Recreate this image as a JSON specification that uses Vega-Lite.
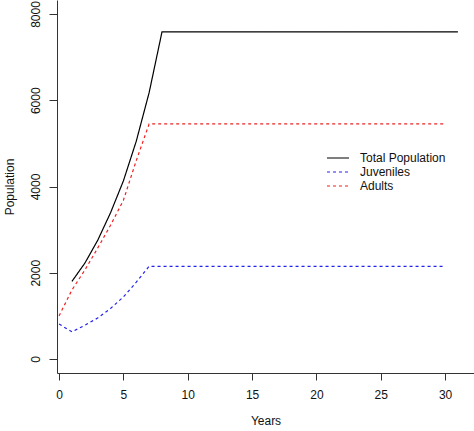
{
  "$schema": "https://vega.github.io/schema/vega-lite/v6.json",
  "width": 417,
  "height": 373,
  "autosize": "none",
  "padding": {"left": 57, "top": 0, "right": 0, "bottom": 58},
  "background": "white",
  "config": {
    "font": "Liberation Sans",
    "view": {"stroke": null},
    "axis": {"grid": false, "domainColor": "#333333", "tickColor": "#333333", "labelColor": "#111111", "titleColor": "#111111", "labelFontSize": 12, "titleFontSize": 12, "titleFontWeight": "normal", "domainWidth": 1, "tickWidth": 1}
  },
  "data": {
    "values": [
      {"year": 1, "pop": 1800, "series": "Total Population"},
      {"year": 2, "pop": 2220, "series": "Total Population"},
      {"year": 3, "pop": 2750, "series": "Total Population"},
      {"year": 4, "pop": 3390, "series": "Total Population"},
      {"year": 5, "pop": 4130, "series": "Total Population"},
      {"year": 6, "pop": 5050, "series": "Total Population"},
      {"year": 7, "pop": 6176, "series": "Total Population"},
      {"year": 8, "pop": 7585, "series": "Total Population"},
      {"year": 31, "pop": 7585, "series": "Total Population"},
      {"year": 0, "pop": 810, "series": "Juveniles"},
      {"year": 1, "pop": 630, "series": "Juveniles"},
      {"year": 2, "pop": 780, "series": "Juveniles"},
      {"year": 3, "pop": 950, "series": "Juveniles"},
      {"year": 4, "pop": 1170, "series": "Juveniles"},
      {"year": 5, "pop": 1440, "series": "Juveniles"},
      {"year": 6, "pop": 1780, "series": "Juveniles"},
      {"year": 7, "pop": 2150, "series": "Juveniles"},
      {"year": 30, "pop": 2150, "series": "Juveniles"},
      {"year": 0, "pop": 1000, "series": "Adults"},
      {"year": 1, "pop": 1600, "series": "Adults"},
      {"year": 2, "pop": 2060, "series": "Adults"},
      {"year": 3, "pop": 2570, "series": "Adults"},
      {"year": 4, "pop": 3100, "series": "Adults"},
      {"year": 5, "pop": 3680, "series": "Adults"},
      {"year": 6, "pop": 4600, "series": "Adults"},
      {"year": 7, "pop": 5450, "series": "Adults"},
      {"year": 30, "pop": 5450, "series": "Adults"}
    ]
  },
  "mark": {"type": "line", "strokeWidth": 1.2, "clip": true},
  "encoding": {
    "x": {
      "field": "year", "type": "quantitative",
      "scale": {"domain": [-0.16, 32.25], "nice": false, "zero": false},
      "axis": {"values": [0, 5, 10, 15, 20, 25, 30], "tickSize": 7, "labelPadding": 9, "title": "Years", "titlePadding": 15}
    },
    "y": {
      "field": "pop", "type": "quantitative",
      "scale": {"domain": [-325, 8325], "nice": false, "zero": false},
      "axis": {"values": [0, 2000, 4000, 6000, 8000], "format": "d", "tickSize": 8, "labelAngle": -90, "labelAlign": "center", "labelBaseline": "bottom", "labelPadding": 7, "title": "Population", "titlePadding": 13}
    },
    "color": {
      "field": "series", "type": "nominal",
      "scale": {"domain": ["Total Population", "Juveniles", "Adults"], "range": ["black", "#2222ee", "#ee2222"]},
      "legend": {"title": null, "orient": "none", "legendX": 269, "legendY": 151, "symbolType": "stroke", "symbolSize": 484, "symbolStrokeWidth": 1.2, "labelFontSize": 12, "labelColor": "#111111", "rowPadding": 0, "clipHeight": 14, "labelOffset": 10}
    },
    "strokeDash": {
      "field": "series", "type": "nominal",
      "scale": {"domain": ["Total Population", "Juveniles", "Adults"], "range": [[1, 0], [3, 3], [3, 3]]},
      "legend": {"title": null, "orient": "none", "legendX": 269, "legendY": 151, "symbolType": "stroke", "symbolSize": 484, "symbolStrokeWidth": 1.2, "labelFontSize": 12, "labelColor": "#111111", "rowPadding": 0, "clipHeight": 14, "labelOffset": 10}
    }
  }
}
